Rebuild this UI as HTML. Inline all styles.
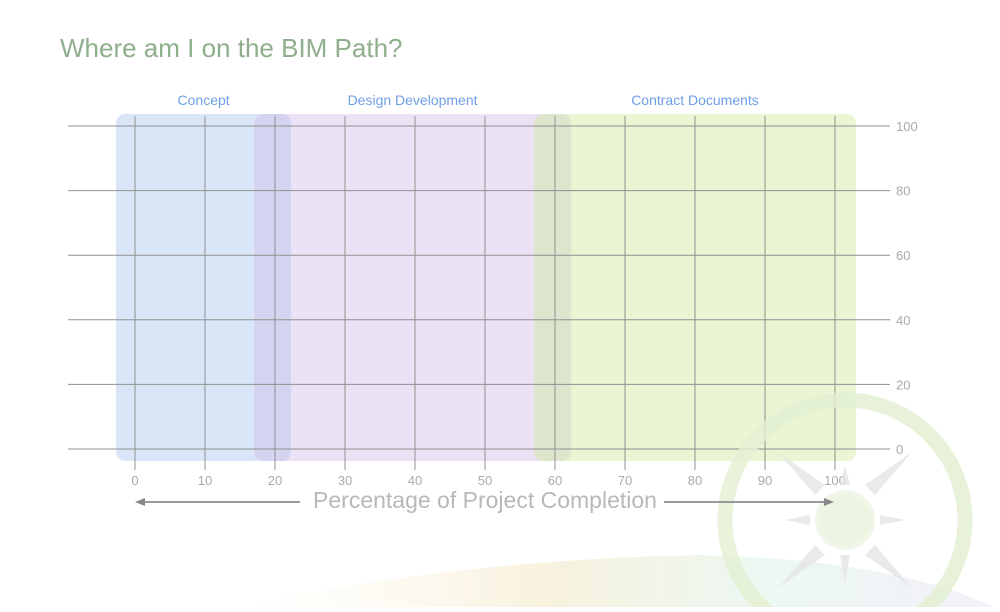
<!DOCTYPE html>
<html><head><meta charset="utf-8"><style>
body{margin:0;background:#fff;width:1000px;height:607px;overflow:hidden;font-family:"Liberation Sans",sans-serif}
</style></head><body>
<svg width="1000" height="607" xmlns="http://www.w3.org/2000/svg">
<defs>
<linearGradient id="sw" x1="0" x2="1"><stop offset="0" stop-color="#fff5e0" stop-opacity="0"/><stop offset="0.4" stop-color="#f3e9c8"/><stop offset="0.7" stop-color="#dff3ea"/><stop offset="1" stop-color="#ece6f6"/></linearGradient>
</defs>
<path d="M240 607 Q450 560 700 555 Q900 560 1000 610 Z" fill="url(#sw)" opacity="0.6"/>
<text x="60" y="57" font-size="26" fill="#8fae8c">Where am I on the BIM Path?</text>
<g id="bands"></g>
<g id="grid"></g>
<g id="labels"></g>
<g opacity="0.8">
<circle cx="845" cy="520" r="120" fill="none" stroke="#e3f0d2" stroke-width="15"/>
<circle cx="845" cy="520" r="28" fill="#e8f3dc" stroke="#eef5e6" stroke-width="4"/>
<g fill="#e6e6e6">
<polygon points="845,466 840,485 850,485"/><polygon points="845,582 840,555 850,555"/>
<polygon points="785,520 810,515 810,525"/><polygon points="905,520 880,515 880,525"/>
<polygon points="778,452 815,495 825,485"/><polygon points="912,452 875,495 865,485"/>
<polygon points="778,588 815,545 825,555"/><polygon points="912,588 875,545 865,555"/>
</g></g>
<text x="485" y="508" font-size="23" fill="#b8b8b8" text-anchor="middle">Percentage of Project Completion</text>
<line x1="300" y1="502" x2="143" y2="502" stroke="#999" stroke-width="2"/>
<polygon points="135,502 145,498 145,506" fill="#888"/>
<line x1="664" y1="502" x2="825" y2="502" stroke="#999" stroke-width="2"/>
<polygon points="834,502 824,498 824,506" fill="#888"/>
<script>
const phases=["Concept","Design Development","Contract Documents"];
const phaseStart=[-2.7,17,57];
const phaseEnd=[22.3,62.3,103];
const xTicks=[0,10,20,30,40,50,60,70,80,90,100];
const yTicks=[0,20,40,60,80,100];
const colors=["rgba(170,200,240,0.45)","rgba(205,185,230,0.4)","rgba(205,230,150,0.42)"];
const xs=v=>135+v*7, ys=v=>449-v*3.23;
const NS="http://www.w3.org/2000/svg";
const bands=document.getElementById('bands'),grid=document.getElementById('grid'),labels=document.getElementById('labels');
function mk(tag,a,p){const e=document.createElementNS(NS,tag);for(const k in a)e.setAttribute(k,a[k]);p.appendChild(e);return e;}
phases.forEach((p,i)=>{
 const r=mk('rect',{x:xs(phaseStart[i]),y:114,width:xs(phaseEnd[i])-xs(phaseStart[i]),height:347,rx:9,fill:colors[i]},bands);
 
 
 const t=mk('text',{x:(xs(phaseStart[i])+xs(phaseEnd[i]))/2,y:105,'font-size':14,fill:'#6f9ee8','text-anchor':'middle'},labels);
 t.textContent=p;
 
 
});
yTicks.forEach(v=>{
 const l=mk('line',{x1:68,x2:890,y1:ys(v),y2:ys(v),stroke:'#909090','stroke-width':1},grid);
 
 
 const t=mk('text',{x:896,y:ys(v)+5,'font-size':13,fill:'#aaa'},labels);
 t.textContent=v;
 
 
});
xTicks.forEach(v=>{
 const l=mk('line',{x1:xs(v),x2:xs(v),y1:116,y2:470,stroke:'#909090','stroke-width':1},grid);
 
 
 const t=mk('text',{x:xs(v),y:485,'font-size':13,fill:'#aaa','text-anchor':'middle'},labels);
 t.textContent=v;
 
 
});
</script>
</svg>
</body></html>
